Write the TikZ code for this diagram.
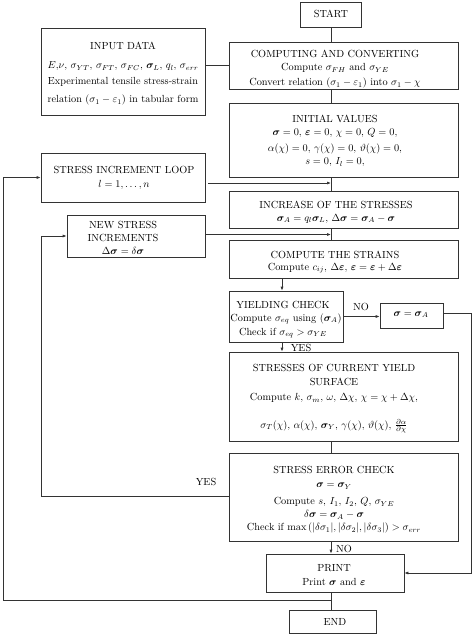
\RequirePackage{fix-cm}
\documentclass[tikz,border=0pt]{standalone}
\usepackage{amsmath,bm}
\usetikzlibrary{arrows.meta,calc}
\begin{document}
\begin{tikzpicture}[x=1pt,y=-1pt,
  every node/.style={font=\fontsize{10.3}{12.4}\selectfont},
  box/.style={draw=black!80, line width=0.7pt, inner sep=0pt},
  txt/.style={inner sep=0pt, anchor=center},
  conn/.style={draw=black!80, line width=0.7pt},
  arr/.style={conn, -{Latex[length=4pt,width=3pt]}}]
\useasboundingbox (0,0) rectangle (474,635);
% boxes
\node[box, minimum width=61pt, minimum height=25pt] (start) at (330.5,14.5) {};
\node[box, minimum width=164pt, minimum height=87pt] (input) at (123,71.5) {};
\node[box, minimum width=229pt, minimum height=47pt] (comp) at (343.5,65.5) {};
\node[box, minimum width=229pt, minimum height=74pt] (init) at (343.5,140) {};
\node[box, minimum width=164pt, minimum height=49pt] (loop) at (123,177.5) {};
\node[box, minimum width=229pt, minimum height=37pt] (inc) at (343.5,209.5) {};
\node[box, minimum width=138pt, minimum height=42pt] (new) at (136,236) {};
\node[box, minimum width=229pt, minimum height=38pt] (strain) at (343.5,259) {};
\node[box, minimum width=114pt, minimum height=51pt] (yield) at (286,316.5) {};
\node[box, minimum width=63pt, minimum height=25pt] (sig) at (411.5,315.5) {};
\node[box, minimum width=229pt, minimum height=89pt] (surf) at (343.5,396.5) {};
\node[box, minimum width=229pt, minimum height=88pt] (err) at (343.5,497) {};
\node[box, minimum width=138pt, minimum height=38pt] (print) at (335,573) {};
\node[box, minimum width=87pt, minimum height=23pt] (end) at (332.5,621.5) {};
% texts
\node[txt] (startT) at (331,14) {START};
\node[txt] (inT1) at (123,46) {INPUT DATA};
\node[txt] (inT2) at (123,66) {$E$,$\nu$, $\sigma_{YT}$, $\sigma_{FT}$, $\sigma_{FC}$, $\bm{\sigma}_L$, $q_l$, $\sigma_{err}$};
\node[txt] (inT3) at (123,81.5) {Experimental tensile stress-strain};
\node[txt] (inT4) at (123,100) {relation $(\sigma_1-\varepsilon_1)$ in tabular form};
\node[txt] (compT1) at (335,54) {COMPUTING AND CONVERTING};
\node[txt] (compT2) at (335,68) {Compute $\sigma_{FH}$ and $\sigma_{YE}$};
\node[txt] (compT3) at (335,83) {Convert relation $(\sigma_1-\varepsilon_1)$ into $\sigma_1-\chi$};
\node[txt] (initT1) at (335,119) {INITIAL VALUES};
\node[txt] (initT2) at (335,132.5) {$\bm{\sigma}=0$, $\bm{\varepsilon}=0$, $\chi=0$, $Q=0$,};
\node[txt] (initT3) at (335,149) {$\alpha(\chi)=0$, $\gamma(\chi)=0$, $\vartheta(\chi)=0$,};
\node[txt] (initT4) at (335,162) {$s=0$, $I_l=0$,};
\node[txt] (loopT1) at (124,170) {STRESS INCREMENT LOOP};
\node[txt] (loopT2) at (124,185) {$l=1,\ldots,n$};
\node[txt] (incT1) at (336,205) {INCREASE OF THE STRESSES};
\node[txt] (incT2) at (336,218.5) {$\bm{\sigma}_A=q_l\bm{\sigma}_L$, $\Delta\bm{\sigma}=\bm{\sigma}_A-\bm{\sigma}$};
\node[txt] (newT1) at (123,225) {NEW STRESS};
\node[txt] (newT2) at (123,238) {INCREMENTS};
\node[txt] (newT3) at (123,251) {$\Delta\bm{\sigma}=\delta\bm{\sigma}$};
\node[txt] (strT1) at (335,254.5) {COMPUTE THE STRAINS};
\node[txt] (strT2) at (335,268) {Compute $c_{ij}$, $\Delta\bm{\varepsilon}$, $\bm{\varepsilon}=\bm{\varepsilon}+\Delta\bm{\varepsilon}$};
\node[txt] (yT1) at (283,305) {YIELDING CHECK};
\node[txt] (yT2) at (286,319) {Compute $\sigma_{eq}$ using $(\bm{\sigma}_A)$};
\node[txt] (yT3) at (283,333) {Check if $\sigma_{eq}>\sigma_{YE}$};
\node[txt] (sigT) at (411,314.5) {$\bm{\sigma}=\bm{\sigma}_A$};
\node[txt] (sT1) at (334,368) {STRESSES OF CURRENT YIELD};
\node[txt] (sT2) at (334,382) {SURFACE};
\node[txt] (sT3) at (334,398) {Compute $k$, $\sigma_m$, $\omega$, $\Delta\chi$, $\chi=\chi+\Delta\chi$,};
\node[txt] (sT4) at (334,426) {$\sigma_T(\chi)$, $\alpha(\chi)$, $\bm{\sigma}_Y$, $\gamma(\chi)$, $\vartheta(\chi)$, $\frac{\partial\alpha}{\partial\chi}$};
\node[txt] (eT1) at (334,470) {STRESS ERROR CHECK};
\node[txt] (eT2) at (334,486) {$\bm{\sigma}=\bm{\sigma}_Y$};
\node[txt] (eT3) at (334,502) {Compute $s$, $I_1$, $I_2$, $Q$, $\sigma_{YE}$};
\node[txt] (eT4) at (334,515) {$\delta\bm{\sigma}=\bm{\sigma}_A-\bm{\sigma}$};
\node[txt] (eT5) at (334,528) {Check if $\max\left(|\delta\sigma_1|, |\delta\sigma_2|, |\delta\sigma_3|\right)>\sigma_{err}$};
\node[txt] (pT1) at (334,568) {PRINT};
\node[txt] (pT2) at (334,582) {Print $\bm{\sigma}$ and $\bm{\varepsilon}$};
\node[txt] (endT) at (335,622) {END};
% labels
\node[txt] (noA) at (361,307) {NO};
\node[txt] (yesA) at (301,348) {YES};
\node[txt] (yesB) at (206,482) {YES};
\node[txt] (noB) at (344,549) {NO};
% axis coordinates
\coordinate (ax) at (331,0);
\coordinate (yx) at (282,0);
\coordinate (rx) at (471,313);
\coordinate (lx) at (3,600);
\coordinate (mx) at (41,496);
% connectors
\draw[conn] (start.south -| ax) -- (comp.north -| ax);
\draw[conn] (comp.west) -- (comp.west -| input.east);
\draw[conn] (comp.south -| ax) -- (init.north -| ax);
\draw[conn] (init.south -| ax) -- (inc.north -| ax);
\draw[arr] ($(loop.east)+(3,5.5)$) -- ($(loop.east -| ax)+(0,5.5)$);
\draw[conn] (inc.south -| ax) -- (strain.north -| ax);
\draw[arr] ($(new.east)+(0,-1.5)$) -- ($(new.east -| ax)+(0,-1.5)$);
\draw[arr] (strain.south -| yx) -- (yield.north -| yx);
\draw[arr] (yield.east) -- (yield.east -| sig.west);
\draw[arr] (yield.south -| yx) -- (surf.north -| yx);
\draw[conn] (surf.south -| ax) -- (err.north -| ax);
\draw[arr] (err.south -| ax) -- (print.north -| ax);
\draw[conn] (print.south -| ax) -- (end.north -| ax);
\draw[arr] (sig.east |- rx) -- (rx) |- (print.east);
\draw[arr] (err.west |- mx) -- (mx) -- (mx |- new.west) -- (new.west);
\draw[arr] (lx -| ax) -- (lx) -- (lx |- loop.west) -- (loop.west);
\end{tikzpicture}
\end{document}
